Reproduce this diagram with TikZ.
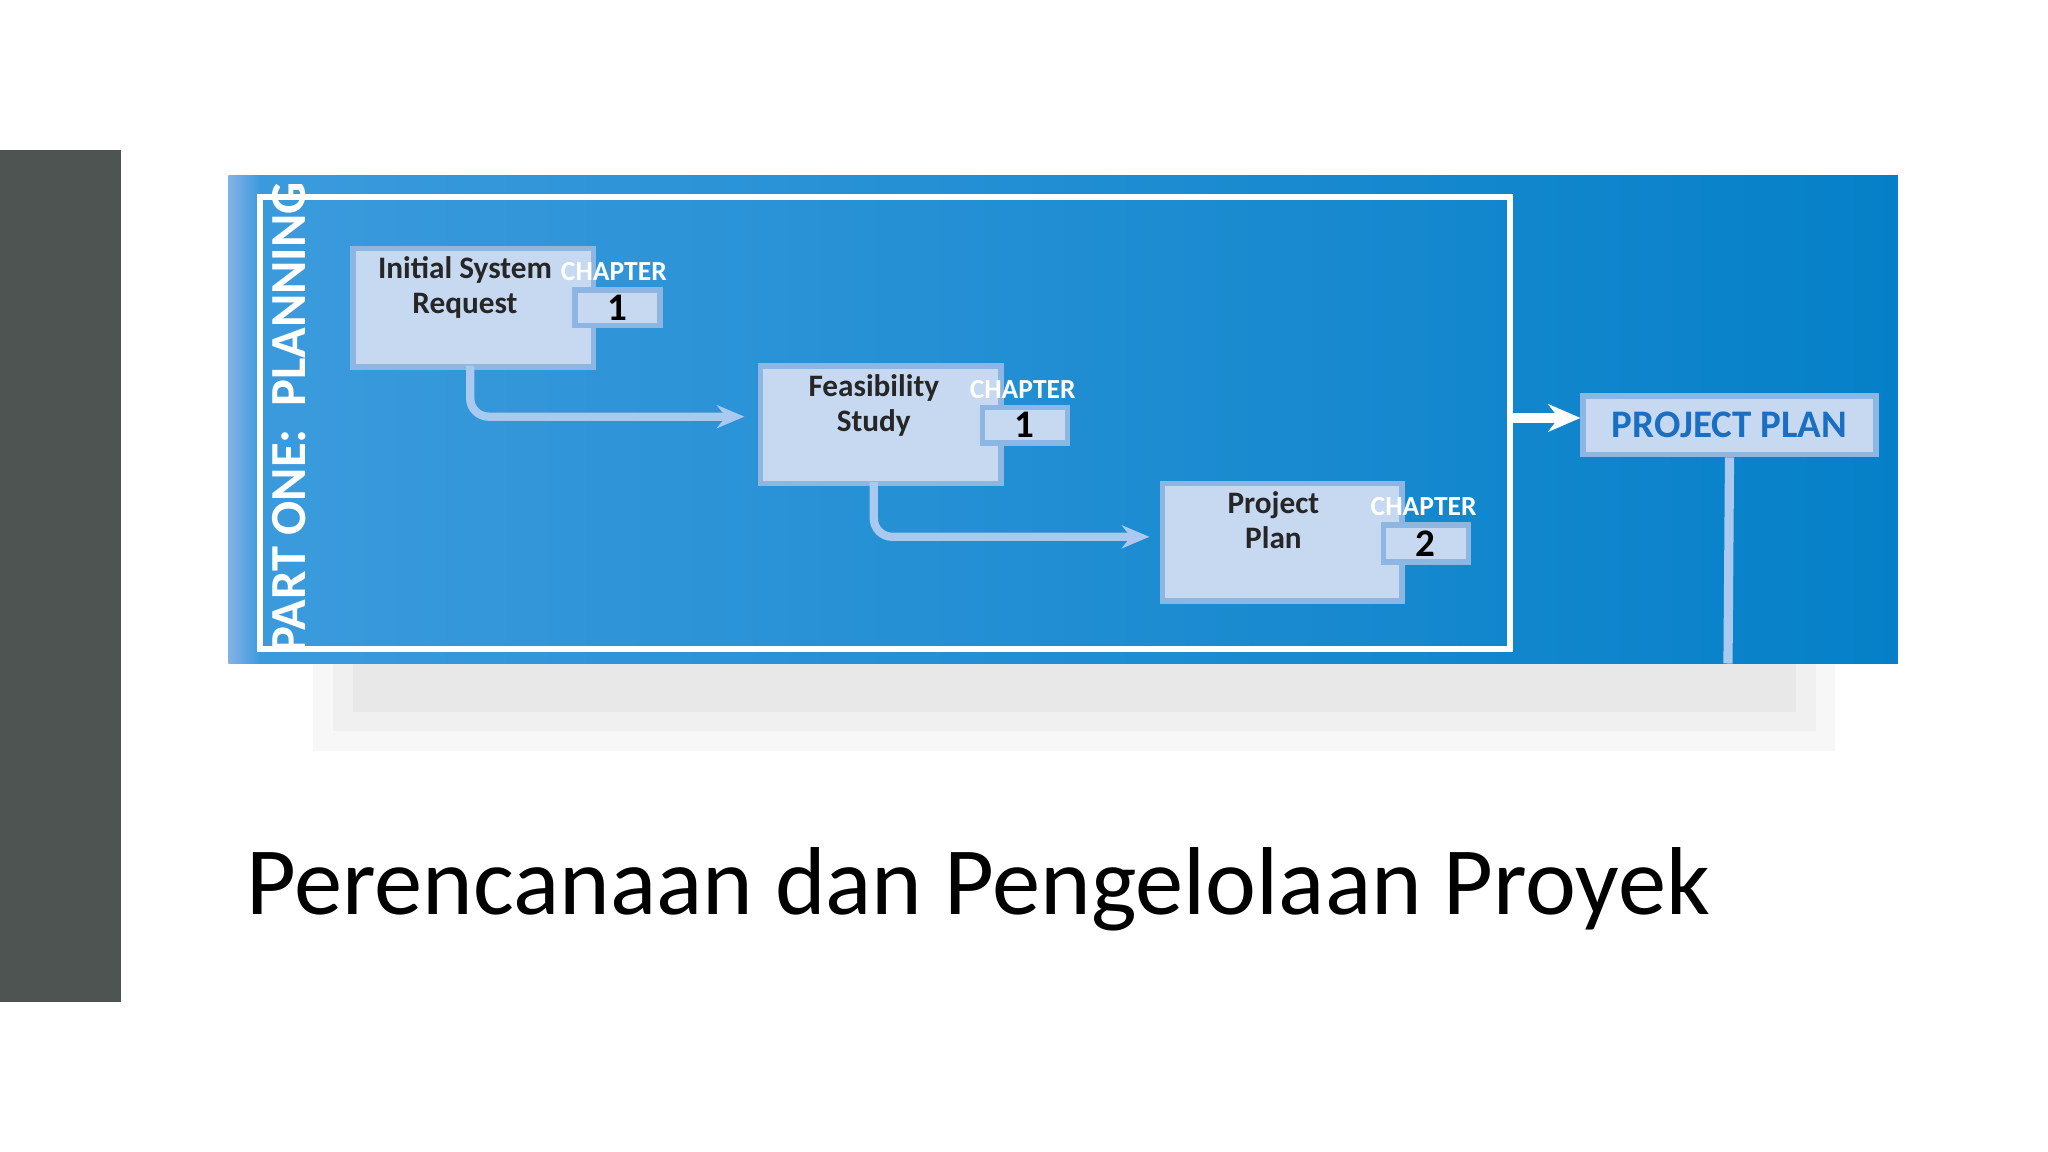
\documentclass[tikz,border=0pt]{standalone}
\usepackage{fontspec}
\setmainfont{Carlito}
\usetikzlibrary{arrows.meta}
\definecolor{grayband}{HTML}{4D5452}
\definecolor{boxfill}{HTML}{C6D9F1}
\definecolor{boxline}{HTML}{8DB6E3}
\definecolor{arrowc}{HTML}{A9C9EE}
\definecolor{planblue}{HTML}{1B6FC2}
\definecolor{panell}{HTML}{3C9BDD}
\definecolor{panelr}{HTML}{0580C8}
\tikzset{
  stepbox/.style={draw=boxline,line width=1.2pt,fill=boxfill,inner sep=0pt},
  steptext/.style={font=\fontsize{6.8}{7.6}\selectfont\bfseries,align=center,text=black!85,inner sep=0pt},
  chaplabel/.style={font=\fontsize{6}{7}\selectfont\bfseries,text=white,inner sep=0pt},
  chapnum/.style={font=\fontsize{8.5}{9}\selectfont\bfseries,text=black},
  flow/.style={draw=arrowc,line width=1.8pt,-{Stealth[length=6pt,width=5pt]}}
}
\begin{document}
\begin{tikzpicture}[x=0.01cm,y=-0.01cm]
\useasboundingbox (0,0) rectangle (1568,882);
\fill[white] (0,0) rectangle (1568,882);
\fill[grayband] (0,115) rectangle (93,767);
% shadow
\fill[black!3] (240,508) rectangle (1405,575);
\fill[black!6] (255,508) rectangle (1390,560);
\fill[black!9] (270,508) rectangle (1375,545);
% panel
\shade[left color=panell, right color=panelr] (175,134) rectangle (1453,508);
\shade[left color={rgb,255:red,130;green,178;blue,228}, right color=panell] (175,134) rectangle (199,508);
\draw[white,line width=1.2pt] (199,151) rectangle (1156,497);
\node[rotate=90,text=white,font=\fontsize{11}{12}\selectfont\bfseries] (part) at (221,320) {PART ONE:\ \ PLANNING};
% boxes
\node[stepbox,minimum width=1.84cm,minimum height=0.91cm,anchor=north west] (b1) at (268,188) {};
\node[steptext,anchor=north] (t1) at (356,196) {Initial System\\Request};
\node[chaplabel] (c1) at (470,208) {CHAPTER};
\node[stepbox,minimum width=0.65cm,minimum height=0.27cm,anchor=north west,chapnum] (n1) at (438,220) {1};
\node[stepbox,minimum width=1.84cm,minimum height=0.90cm,anchor=north west] (b2) at (580,278) {};
\node[steptext,anchor=north] (t2) at (669,286) {Feasibility\\Study};
\node[chaplabel] (c2) at (783,298) {CHAPTER};
\node[stepbox,minimum width=0.65cm,minimum height=0.27cm,anchor=north west,chapnum] (n2) at (750,310) {1};
\node[stepbox,minimum width=1.83cm,minimum height=0.90cm,anchor=north west] (b3) at (888,368) {};
\node[steptext,anchor=north] (t3) at (975,376) {Project\\Plan};
\node[chaplabel] (c3) at (1090,388) {CHAPTER};
\node[stepbox,minimum width=0.65cm,minimum height=0.28cm,anchor=north west,chapnum] (n3) at (1057,400) {2};
\coordinate (a1) at (360,280);
\coordinate (a2) at (669,369);
\draw[flow,rounded corners=4pt] (a1) -- (360,319) -- (570,319);
\draw[flow,rounded corners=4pt] (a2) -- (669,411) -- (880,411);
% project plan
\node[stepbox,minimum width=2.24cm,minimum height=0.45cm,anchor=north west,text=planblue,font=\fontsize{8.5}{9}\selectfont\bfseries] (pp) at (1210,301) {PROJECT PLAN};
\coordinate (f) at (1157,320);
\draw[white,line width=2pt,-{Stealth[length=7pt,width=6pt]}] (f) -- (f -| pp.west);
\coordinate (pe) at (1323,508);
\draw[arrowc,line width=2pt] (pp.south) -- (pe);
% title
\node[anchor=base west,inner sep=0pt,font=\fontsize{21}{25}\selectfont] (title) at (188,700) {Perencanaan dan Pengelolaan Proyek};
\end{tikzpicture}
\end{document}
